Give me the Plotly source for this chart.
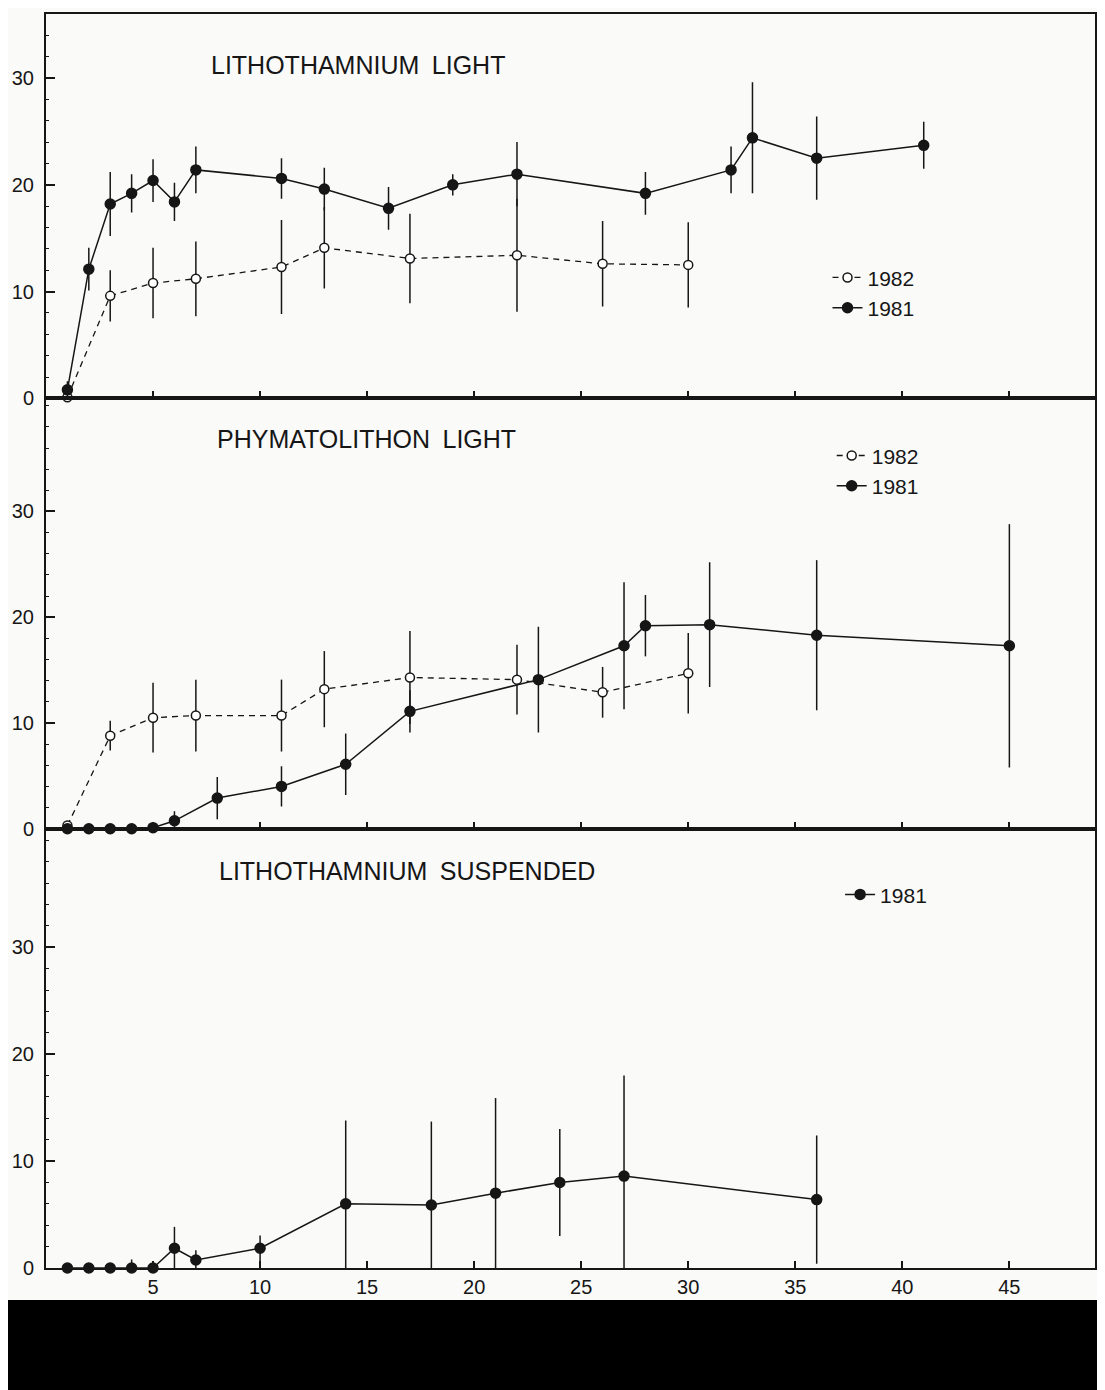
import plotly.graph_objects as go

# Lithothamnium light
lith_light_81_x = [1, 2, 3, 4, 5, 6, 7, 11, 13, 16, 19, 22, 28, 32, 33, 36, 41]
lith_light_81_y = [0.8, 12.1, 18.2, 19.2, 20.4, 18.4, 21.4, 20.6, 19.6, 17.8, 20.0, 21.0, 19.2, 21.4, 24.4, 22.5, 23.7]
lith_light_81_err = [0.8, 2.0, 3.0, 1.8, 2.0, 1.8, 2.2, 1.9, 2.0, 2.0, 1.0, 3.0, 2.0, 2.2, 5.2, 3.9, 2.2]

lith_light_82_x = [1, 3, 5, 7, 11, 13, 17, 22, 26, 30]
lith_light_82_y = [0.1, 9.6, 10.8, 11.2, 12.3, 14.1, 13.1, 13.4, 12.6, 12.5]
lith_light_82_err = [0, 2.4, 3.3, 3.5, 4.4, 3.8, 4.2, 5.3, 4.0, 4.0]

# Phymatolithon light
phym_light_81_x = [1, 2, 3, 4, 5, 6, 8, 11, 14, 17, 23, 27, 28, 31, 36, 45]
phym_light_81_y = [0, 0, 0, 0, 0.1, 0.75, 2.9, 4.0, 6.1, 11.1, 14.1, 17.3, 19.2, 19.3, 18.3, 17.3]
phym_light_81_err = [0, 0, 0, 0, 0, 0.9, 2.0, 1.9, 2.9, 2.0, 5.0, 6.0, 2.9, 5.9, 7.1, 11.5]

phym_light_82_x = [1, 3, 5, 7, 11, 13, 17, 22, 26, 30]
phym_light_82_y = [0.3, 8.8, 10.5, 10.7, 10.7, 13.2, 14.3, 14.1, 12.9, 14.7]
phym_light_82_err = [0, 1.4, 3.3, 3.4, 3.4, 3.6, 4.4, 3.3, 2.4, 3.8]

# Lithothamnium suspended
lith_susp_81_x = [1, 2, 3, 4, 5, 6, 7, 10, 14, 18, 21, 24, 27, 36]
lith_susp_81_y = [0, 0, 0, 0, 0, 1.85, 0.75, 1.85, 6.0, 5.9, 7.0, 8.0, 8.6, 6.4]
lith_susp_81_err = [0, 0, 0, 0.8, 0.6, 2.0, 0.9, 1.2, 7.8, 7.8, 8.9, 5.0, 9.4, 6.0]

panel_titles = ["LITHOTHAMNIUM\u2002LIGHT", "PHYMATOLITHON\u2002LIGHT", "LITHOTHAMNIUM\u2002SUSPENDED"]
y_ticks = [0, 10, 20, 30]
x_ticks = [5, 10, 15, 20, 25, 30, 35, 40, 45]

INK = "#161616"
FONT = "Liberation Sans, Arial, sans-serif"


def series(x, y, err, year, axis, legend, showlegend=True):
    filled = year == "1981"
    return go.Scatter(
        x=x, y=y, name=year, xaxis="x" + axis, yaxis="y" + axis,
        mode="lines+markers", legend=legend, showlegend=showlegend,
        cliponaxis=False,
        line=dict(color=INK, width=1.5 if filled else 1.3, dash="solid" if filled else "6px,5px"),
        marker=dict(
            symbol="circle", size=10 if filled else 9,
            color=INK if filled else "white",
            line=dict(color=INK, width=1.5),
        ),
        error_y=dict(type="data", array=err, symmetric=True, width=0, thickness=1.5, color=INK),
    )


fig = go.Figure()
fig.add_trace(series(lith_light_82_x, lith_light_82_y, lith_light_82_err, "1982", "", "legend"))
fig.add_trace(series(lith_light_81_x, lith_light_81_y, lith_light_81_err, "1981", "", "legend"))
fig.add_trace(series(phym_light_82_x, phym_light_82_y, phym_light_82_err, "1982", "2", "legend2"))
fig.add_trace(series(phym_light_81_x, phym_light_81_y, phym_light_81_err, "1981", "2", "legend2"))
fig.add_trace(series(lith_susp_81_x, lith_susp_81_y, lith_susp_81_err, "1981", "3", "legend3"))

domains = [[0.6935, 1.0], [0.3503, 0.6935], [0.0, 0.3503]]
yranges = [[0, 36], [0, 40.7], [0, 41.1]]

axis_common = dict(
    showline=True, linecolor=INK, linewidth=2, mirror=True,
    showgrid=False, zeroline=False,
    ticks="inside", tickcolor=INK, tickwidth=1.5,
    tickfont=dict(family=FONT, size=20, color=INK),
)

layout_axes = {}
for i, suffix in enumerate(["", "2", "3"]):
    layout_axes["xaxis" + suffix] = dict(
        axis_common, domain=[0, 1], anchor="y" + suffix, range=[0, 49],
        tickvals=x_ticks, ticklen=7, showticklabels=(suffix == "3"),
    )
    layout_axes["yaxis" + suffix] = dict(
        axis_common, domain=domains[i], anchor="x" + suffix, range=yranges[i],
        tickvals=y_ticks, ticklen=9, ticklabelstandoff=6,
        minor=dict(dtick=2, ticks="inside", ticklen=3, tickcolor=INK, tickwidth=1),
    )

fig.update_layout(**layout_axes)

title_pos = [(0.155, 0.9594), (0.161, 0.6608), (0.163, 0.3169)]
for title, (tx, ty) in zip(panel_titles, title_pos):
    fig.add_annotation(
        text=title, xref="paper", yref="paper", x=tx, y=ty,
        xanchor="left", yanchor="middle", showarrow=False,
        font=dict(family=FONT, size=25, color=INK),
    )

legend_style = dict(
    bgcolor="rgba(0,0,0,0)", borderwidth=0, xanchor="left", yanchor="top",
    font=dict(family=FONT, size=21, color=INK), itemwidth=30, tracegroupgap=0,
)
fig.update_layout(
    legend=dict(legend_style, x=0.745, y=0.806),
    legend2=dict(legend_style, x=0.749, y=0.664),
    legend3=dict(legend_style, x=0.757, y=0.314),
)

# dark strip along the bottom edge of the scanned page
fig.add_shape(
    type="rect", xref="paper", yref="paper", x0=-0.1, x1=1.1, y0=-0.0255, y1=-0.2,
    fillcolor="black", line=dict(width=0), layer="above",
)

# page body adds an 8px offset, so the figure is sized to fill the rest
fig.update_layout(
    width=1097, height=1382,
    margin=dict(l=37, r=10, t=4, b=122),
    paper_bgcolor="#fafaf9", plot_bgcolor="#fafaf9",
    showlegend=True,
)

fig.write_html("out.html")
